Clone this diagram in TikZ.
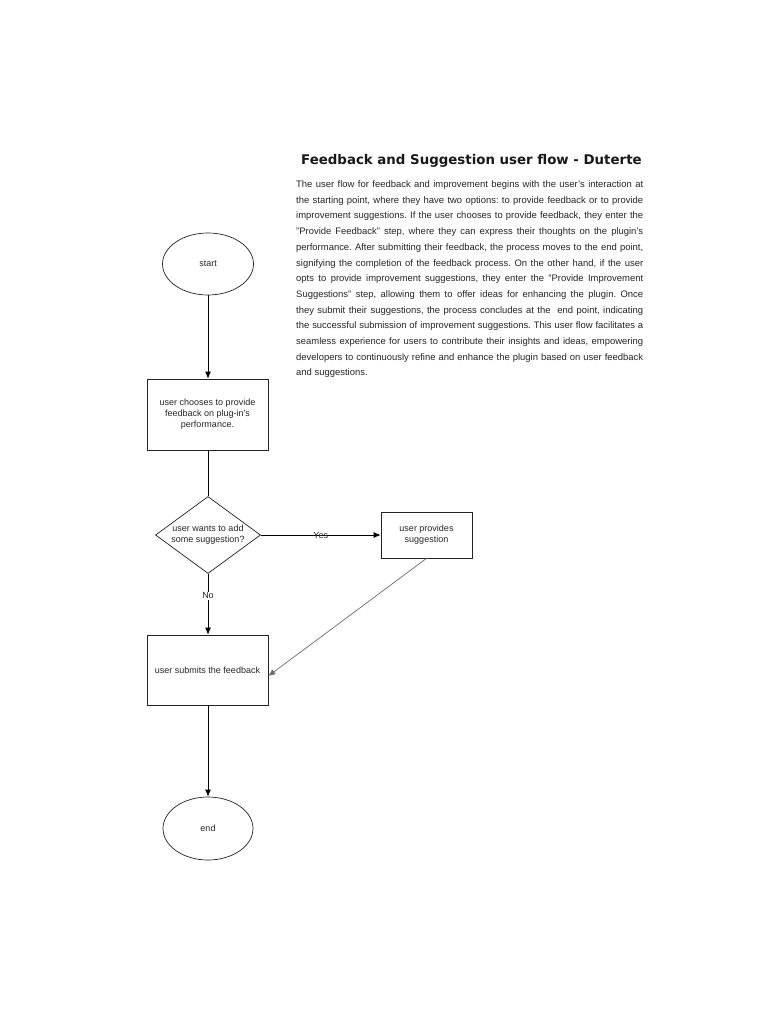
\documentclass[tikz,border=0pt]{standalone}
\usepackage{fontspec}
\setmainfont{Liberation Sans}
\newfontfamily\titlefont{DejaVu Sans}
\usetikzlibrary{shapes.geometric,arrows.meta}
\definecolor{txt}{HTML}{262626}
\definecolor{edge}{HTML}{222222}
\newcommand\jline[1]{\hbox to 347pt{#1}\par}
\newcommand\lline[1]{\hbox to 347pt{#1\hfil}\par}
\tikzset{
  flowtext/.style={font=\fontsize{9}{11}\selectfont, text=txt, align=center},
  term/.style={ellipse, draw=edge, line width=0.7pt, flowtext, inner sep=0pt},
  procbox/.style={rectangle, draw=edge, line width=0.7pt, flowtext, inner sep=0pt},
  decision/.style={diamond, draw=edge, line width=0.7pt, flowtext, inner sep=0pt, aspect=1.36},
  conn/.style={draw=black, line width=0.8pt},
  arr/.style={conn, -{Latex[length=7pt,width=6pt]}},
  elabel/.style={font=\fontsize{9}{10}\selectfont, text=txt, inner sep=1pt}
}
\begin{document}
\begin{tikzpicture}[x=1pt,y=-1pt]
\useasboundingbox[fill=white] (0,0) rectangle (768,1024);

\node[anchor=west, inner sep=0pt, font=\titlefont\bfseries\fontsize{13.35}{16}\selectfont, text=black!90] (title) at (301,161) {Feedback and Suggestion user flow - Duterte};

\node[anchor=north west, inner sep=0pt, text width=347pt, text=txt, font=\fontsize{9.45}{15.7}\selectfont] (para) at (296,180.5) {%
\parindent=0pt\frenchspacing\spaceskip=0.278em plus 0.3em minus 0.15em
\jline{The user flow for feedback and improvement begins with the user's interaction at}
\jline{the starting point, where they have two options: to provide feedback or to provide}
\jline{improvement suggestions. If the user chooses to provide feedback, they enter the}
\jline{"Provide Feedback" step, where they can express their thoughts on the plugin's}
\jline{performance. After submitting their feedback, the process moves to the end point,}
\jline{signifying the completion of the feedback process. On the other hand, if the user}
\jline{opts to provide improvement suggestions, they enter the "Provide Improvement}
\jline{Suggestions" step, allowing them to offer ideas for enhancing the plugin. Once}
\jline{they submit their suggestions, the process concludes at the \ end point, indicating}
\jline{the successful submission of improvement suggestions. This user flow facilitates a}
\jline{seamless experience for users to contribute their insights and ideas, empowering}
\jline{developers to continuously refine and enhance the plugin based on user feedback}
\lline{and suggestions.}};

\node[term, minimum width=91pt, minimum height=62pt] (start) at (208,264) {start};
\node[procbox, minimum width=121pt, minimum height=71pt] (choose) at (207.5,414.5) {user chooses to provide\\feedback on plug-in's\\performance.};
\node[decision, minimum width=105pt, minimum height=77pt] (dec) at (208,535) {user wants to add\\some suggestion?};
\node[procbox, minimum width=91pt, minimum height=46pt] (sugg) at (426.5,535) {user provides\\suggestion};
\node[procbox, minimum width=121pt, minimum height=70pt] (submit) at (207.5,670) {user submits the feedback};
\node[term, minimum width=90pt, minimum height=63pt] (end) at (208,828.5) {end};

\draw[arr] (start.south) -- (start.south |- choose.north);
\draw[conn] (choose.south -| dec.north) -- (dec.north);
\draw[arr] (dec.east) -- node[elabel] {Yes} (sugg.west);
\draw[arr] (dec.south) -- node[elabel, fill=white, pos=0.36] {No} (dec.south |- submit.north);
\draw[arr, draw=gray!85!black, line width=0.7pt] (sugg.south) -- ([yshift=-6pt]submit.east);
\draw[arr] (submit.south -| end.north) -- (end.north);
\end{tikzpicture}
\end{document}
